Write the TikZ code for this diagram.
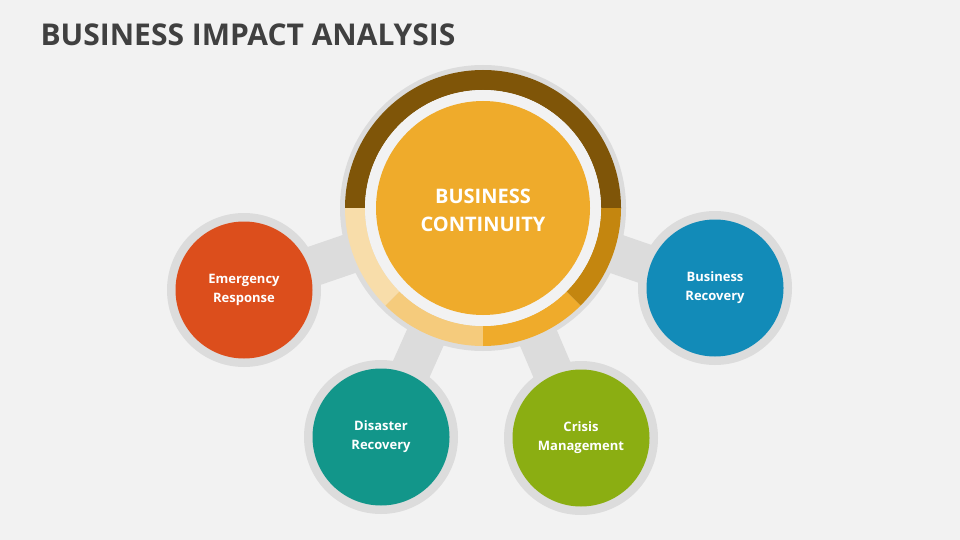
\documentclass[tikz,border=0pt]{standalone}
\usepackage{fontspec}
\setmainfont{Open Sans}
\definecolor{bg}{HTML}{F2F2F2}
\definecolor{ring}{HTML}{DCDCDC}
\definecolor{c1}{HTML}{7F5508}
\definecolor{c2}{HTML}{C4860F}
\definecolor{c3}{HTML}{EFAB2B}
\definecolor{c4}{HTML}{F5CB7C}
\definecolor{c5}{HTML}{F8DDAA}
\definecolor{er}{HTML}{DC4E1C}
\definecolor{br}{HTML}{128BB8}
\definecolor{dr}{HTML}{12968A}
\definecolor{cm}{HTML}{8BAE12}
\begin{document}
\begin{tikzpicture}[x=1pt,y=-1pt,
  neck/.style={ring,line width=40pt},
  sat/.style={circle,minimum size=137pt,inner sep=0pt,text=white,font=\bfseries\fontsize{13}{19}\selectfont,align=center},
  satring/.style={circle,fill=ring,minimum size=154pt,inner sep=0pt}]
\fill[bg] (0,0) rectangle (960,540);
\useasboundingbox (0,0) rectangle (960,540);
\node[anchor=west,text=black!75,font=\bfseries\fontsize{30}{36}\selectfont] (title) at (37,35) {BUSINESS IMPACT ANALYSIS};
\coordinate (C) at (483,208);
\coordinate (e) at (244,290);
\coordinate (b) at (715,288);
\coordinate (d) at (381,437);
\coordinate (m) at (581,438);
\foreach \s in {e,b,d,m} \draw[neck] (C) -- (\s);
\foreach \s in {e,b,d,m} \node[satring] at (\s) {};
\fill[ring] (C) circle (143);
\fill[c1] (C) ++(-180:138) arc[start angle=-180,end angle=0,radius=138] -- ++(180:20) arc[start angle=0,end angle=-180,radius=118] -- cycle;
\fill[c5] (C) ++(180:138) arc[start angle=180,end angle=135,radius=138] -- ++(-45:20) arc[start angle=135,end angle=180,radius=118] -- cycle;
\fill[c4] (C) ++(135:138) arc[start angle=135,end angle=90,radius=138] -- ++(-90:20) arc[start angle=90,end angle=135,radius=118] -- cycle;
\fill[c3] (C) ++(90:138) arc[start angle=90,end angle=45,radius=138] -- ++(-135:20) arc[start angle=45,end angle=90,radius=118] -- cycle;
\fill[c2] (C) ++(45:138) arc[start angle=45,end angle=0,radius=138] -- ++(180:20) arc[start angle=0,end angle=45,radius=118] -- cycle;
\fill[bg] (C) circle (118);
\node[circle,fill=c3,minimum size=214pt,inner sep=0pt] (center) at (C) {};
\node[text=white,font=\bfseries\fontsize{20}{28}\selectfont,align=center] (ct) at (483,210) {BUSINESS\\CONTINUITY};
\node[sat,fill=er] (en) at (e) {Emergency\\Response};
\node[sat,fill=br] (bn) at (b) {Business\\Recovery};
\node[sat,fill=dr] (dn) at (d) {Disaster\\Recovery};
\node[sat,fill=cm] (mn) at (m) {Crisis\\Management};
\end{tikzpicture}
\end{document}
